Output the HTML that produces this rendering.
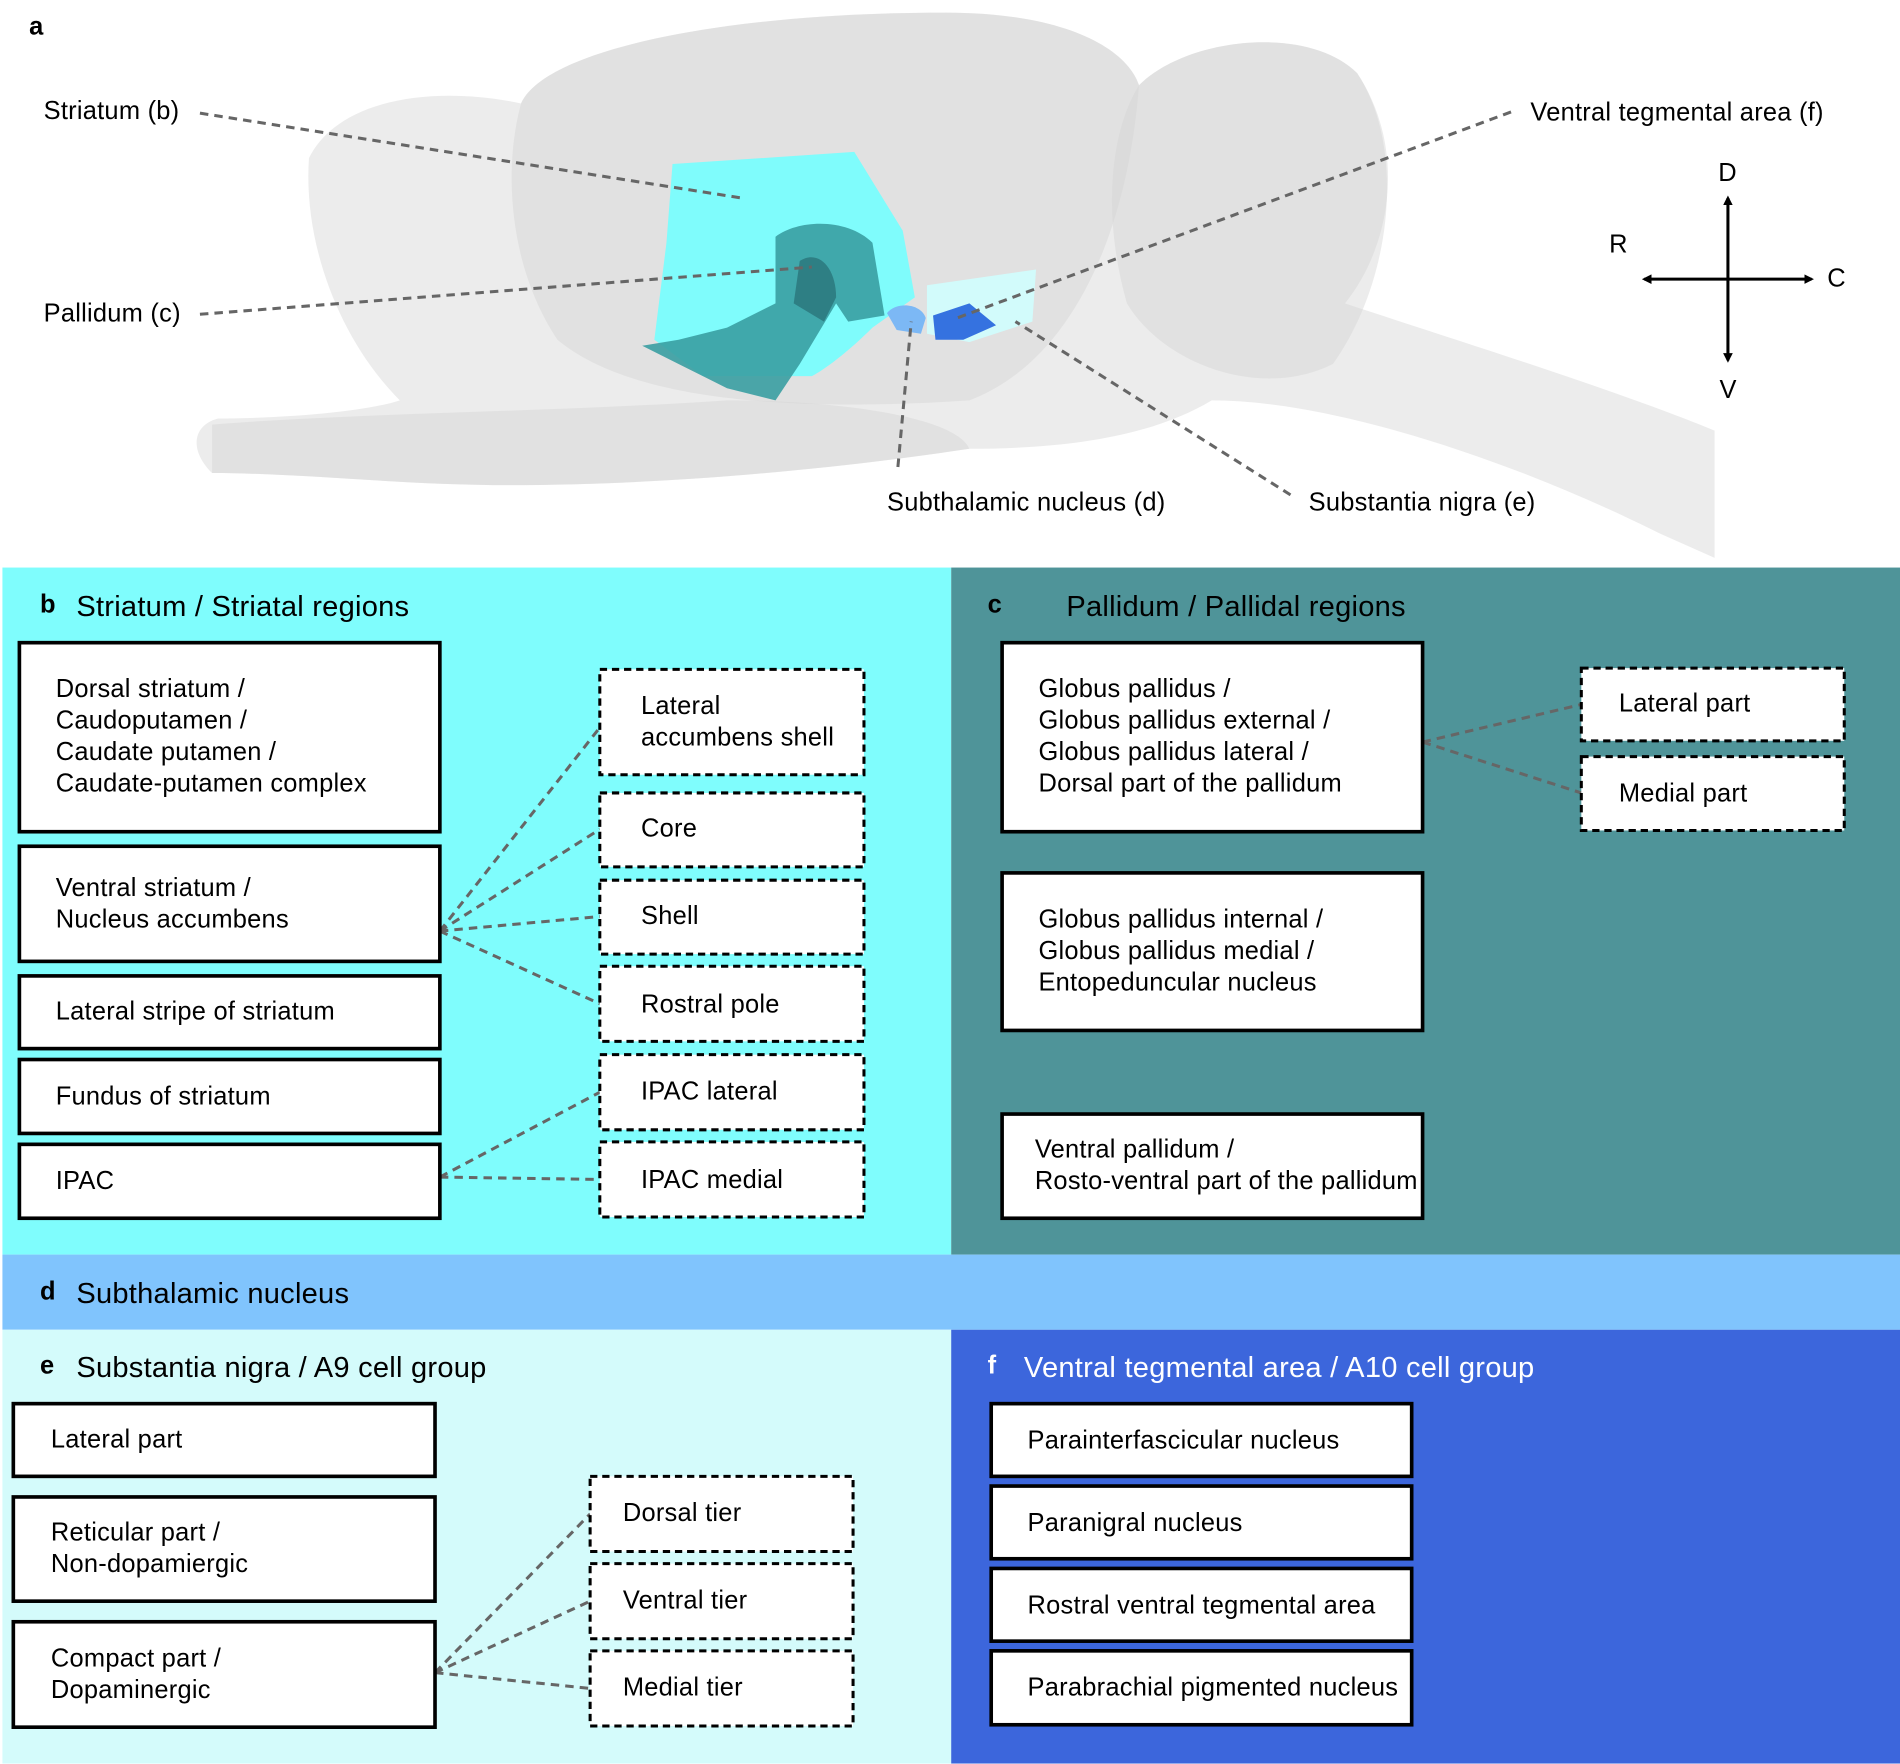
<!DOCTYPE html>
<html><head><meta charset="utf-8"><style>
html,body{margin:0;padding:0;background:#fff;}
svg{display:block;}
text{font-family:"Liberation Sans",Arial,sans-serif;font-size:21px;letter-spacing:0.2px;fill:#000;}
.b{fill:#fff;stroke:#000;stroke-width:3;}
.d{fill:#fff;stroke:#000;stroke-width:2.5;stroke-dasharray:6 4;}
.c{stroke:#666;stroke-width:2.5;stroke-dasharray:7 5;fill:none;}
.t{font-size:24px;letter-spacing:0.2px;}
</style></head><body>
<svg width="1900" height="1764" viewBox="0 0 1568 1455" xmlns="http://www.w3.org/2000/svg">
<defs><marker id="ar" markerWidth="8" markerHeight="8" refX="6" refY="4" orient="auto" markerUnits="userSpaceOnUse"><path d="M0,0 L8,4 L0,8 z" fill="#000"/></marker></defs>
<rect width="1568" height="1455" fill="#fff"/>
<text x="24" y="28" style="font-weight:bold">a</text>
<g fill="#d4d4d4" fill-opacity="0.45">
<path d="M255,130 C280,80 360,70 430,85 C450,40 600,10 780,10 C880,10 930,40 940,70 C980,30 1080,20 1120,60 C1160,120 1150,200 1110,250 C1200,280 1330,320 1415,355 L1415,460 L1370,440 C1250,380 1100,330 1000,330 C950,360 880,370 800,370 C700,385 560,400 420,400 C330,400 250,390 175,390 C155,370 160,350 180,345 C230,345 300,340 330,330 C280,280 250,200 255,130 Z"/>
<path d="M430,85 C450,40 600,10 780,10 C880,10 930,40 940,70 C930,200 880,300 800,330 C650,340 520,330 460,280 C420,220 415,140 430,85 Z"/>
<path d="M940,70 C980,30 1080,20 1120,60 C1160,120 1150,230 1100,300 C1040,330 960,300 930,250 C910,180 915,110 940,70 Z"/>
<path d="M175,350 C300,340 450,340 600,330 C700,330 790,345 800,370 C700,385 560,400 420,400 C330,400 250,390 175,390 Z"/>
</g>
<path d="M555,135 L705,125 L745,190 L755,245 L720,270 C700,290 680,305 670,310 L580,310 L540,280 L550,200 Z" fill="#7ffcfc"/>
<path d="M640,195 C660,180 700,180 720,200 L730,260 L700,265 L690,250 L660,300 L640,330 L600,320 L560,300 L530,285 L560,280 L600,270 L620,260 L640,250 Z" fill="#3a9ea2" fill-opacity="0.9"/>
<path d="M660,215 C675,205 690,220 690,245 L680,265 L655,250 Z" fill="#2e7f84"/>
<path d="M765,235 L855,222 L852,265 L800,282 L765,275 Z" fill="#d2fbfb"/>
<path d="M732,258 C740,248 760,250 764,262 L760,275 L740,272 Z" fill="#7cb8f5"/>
<path d="M770,260 L800,250 L822,268 L795,280 L772,280 Z" fill="#3572e0"/>
<text x="36" y="98">Striatum (b)</text>
<path class="c" d="M165,93 L612,163"/>
<text x="36" y="265">Pallidum (c)</text>
<path class="c" d="M165,259 L670,220"/>
<text x="1263" y="99">Ventral tegmental area (f)</text>
<path class="c" d="M1247,92 L790,262"/>
<text x="732" y="421">Subthalamic nucleus (d)</text>
<path class="c" d="M741,385 L752,265"/>
<text x="1080" y="421">Substantia nigra (e)</text>
<path class="c" d="M1065,408 L838,265"/>
<g stroke="#000" stroke-width="2.5">
<line x1="1426" y1="230" x2="1426" y2="163" marker-end="url(#ar)"/>
<line x1="1426" y1="230" x2="1426" y2="297" marker-end="url(#ar)"/>
<line x1="1426" y1="230" x2="1357" y2="230" marker-end="url(#ar)"/>
<line x1="1426" y1="230" x2="1495" y2="230" marker-end="url(#ar)"/>
</g>
<text x="1418" y="149">D</text><text x="1419" y="328">V</text><text x="1328" y="208">R</text><text x="1508" y="236">C</text>
<rect x="2" y="468" width="783" height="567" fill="#7ffdfd"/>
<rect x="785" y="468" width="783" height="567" fill="#4f9499"/>
<rect x="2" y="1035" width="1566" height="62" fill="#80c4fd"/>
<rect x="2" y="1097" width="783" height="358" fill="#d4fbfb"/>
<rect x="785" y="1097" width="783" height="358" fill="#3c66dc"/>
<text x="33" y="505" style="font-weight:bold">b</text><text x="63" y="508" class="t">Striatum / Striatal regions</text>
<text x="815" y="505" style="font-weight:bold">c</text><text x="880" y="508" class="t">Pallidum / Pallidal regions</text>
<text x="33" y="1072" style="font-weight:bold">d</text><text x="63" y="1075" class="t">Subthalamic nucleus</text>
<text x="33" y="1133" style="font-weight:bold">e</text><text x="63" y="1136" class="t">Substantia nigra / A9 cell group</text>
<text x="815" y="1133" style="font-weight:bold;fill:#fff">f</text><text x="845" y="1136" class="t" style="fill:#fff">Ventral tegmental area / A10 cell group</text>
<g class="c"><path d="M363,768 L495,600"/><path d="M363,768 L495,684"/><path d="M363,768 L495,756"/><path d="M363,768 L495,828"/><path d="M363,971 L495,901"/><path d="M363,971 L495,973"/>
<path d="M1174,612 L1305,581"/><path d="M1174,612 L1305,654"/>
<path d="M359,1380 L487,1249"/><path d="M359,1380 L487,1321"/><path d="M359,1380 L487,1393"/></g>
<g>
<rect class="b" x="16" y="530" width="347" height="156"/>
<text x="46" y="575">Dorsal striatum /</text><text x="46" y="601">Caudoputamen /</text><text x="46" y="627">Caudate putamen /</text><text x="46" y="653">Caudate-putamen complex</text>
<rect class="b" x="16" y="698" width="347" height="95"/>
<text x="46" y="739">Ventral striatum /</text><text x="46" y="765">Nucleus accumbens</text>
<rect class="b" x="16" y="805" width="347" height="60"/><text x="46" y="841">Lateral stripe of striatum</text>
<rect class="b" x="16" y="874" width="347" height="61"/><text x="46" y="911">Fundus of striatum</text>
<rect class="b" x="16" y="944" width="347" height="61"/><text x="46" y="981">IPAC</text>
<rect class="d" x="495" y="552" width="218" height="87"/><text x="529" y="589">Lateral</text><text x="529" y="615">accumbens shell</text>
<rect class="d" x="495" y="654" width="218" height="61"/><text x="529" y="690">Core</text>
<rect class="d" x="495" y="726" width="218" height="61"/><text x="529" y="762">Shell</text>
<rect class="d" x="495" y="797" width="218" height="62"/><text x="529" y="835">Rostral pole</text>
<rect class="d" x="495" y="870" width="218" height="62"/><text x="529" y="907">IPAC lateral</text>
<rect class="d" x="495" y="942" width="218" height="62"/><text x="529" y="980">IPAC medial</text>
<rect class="b" x="827" y="530" width="347" height="156"/>
<text x="857" y="575">Globus pallidus /</text><text x="857" y="601">Globus pallidus external /</text><text x="857" y="627">Globus pallidus lateral /</text><text x="857" y="653">Dorsal part of the pallidum</text>
<rect class="b" x="827" y="720" width="347" height="130"/>
<text x="857" y="765">Globus pallidus internal /</text><text x="857" y="791">Globus pallidus medial /</text><text x="857" y="817">Entopeduncular nucleus</text>
<rect class="b" x="827" y="919" width="347" height="86"/>
<text x="854" y="955">Ventral pallidum /</text><text x="854" y="981">Rosto-ventral part of the pallidum</text>
<rect class="d" x="1305" y="551" width="217" height="60"/><text x="1336" y="587">Lateral part</text>
<rect class="d" x="1305" y="624" width="217" height="61"/><text x="1336" y="661">Medial part</text>
<rect class="b" x="11" y="1158" width="348" height="60"/><text x="42" y="1194">Lateral part</text>
<rect class="b" x="11" y="1235" width="348" height="86"/><text x="42" y="1271">Reticular part /</text><text x="42" y="1297">Non-dopamiergic</text>
<rect class="b" x="11" y="1338" width="348" height="87"/><text x="42" y="1375">Compact part /</text><text x="42" y="1401">Dopaminergic</text>
<rect class="d" x="487" y="1218" width="217" height="62"/><text x="514" y="1255">Dorsal tier</text>
<rect class="d" x="487" y="1290" width="217" height="62"/><text x="514" y="1327">Ventral tier</text>
<rect class="d" x="487" y="1362" width="217" height="62"/><text x="514" y="1399">Medial tier</text>
<rect class="b" x="818" y="1158" width="347" height="60"/><text x="848" y="1195">Parainterfascicular nucleus</text>
<rect class="b" x="818" y="1226" width="347" height="60"/><text x="848" y="1263">Paranigral nucleus</text>
<rect class="b" x="818" y="1294" width="347" height="60"/><text x="848" y="1331">Rostral ventral tegmental area</text>
<rect class="b" x="818" y="1362" width="347" height="61"/><text x="848" y="1399">Parabrachial pigmented nucleus</text>
</g>
</svg>
</body></html>
